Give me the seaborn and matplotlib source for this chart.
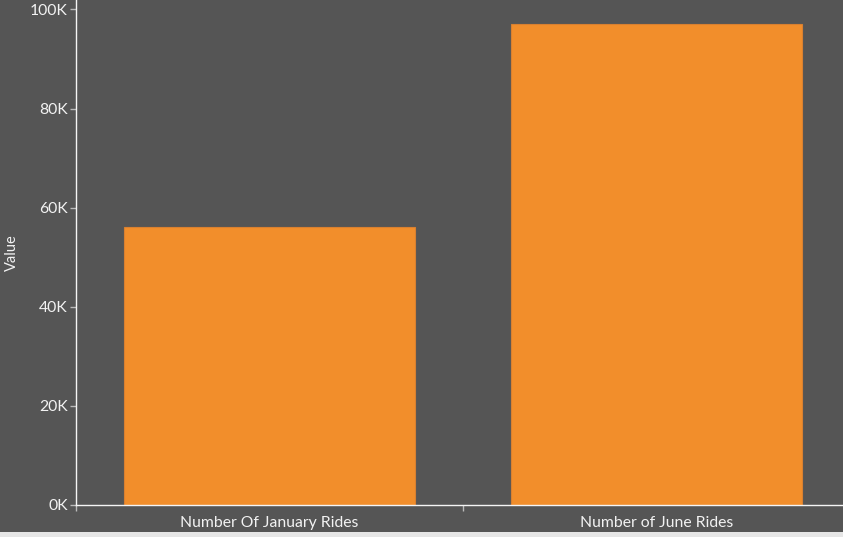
import pandas as pd
import matplotlib.pyplot as plt
import seaborn as sns
from matplotlib.patches import Rectangle

# data
categories = ["Number Of January Rides", "Number of June Rides"]
values = [56000, 97000]
ytick_values = [0, 20000, 40000, 60000, 80000, 100000]
ytick_labels = ["0K", "20K", "40K", "60K", "80K", "100K"]

df = pd.DataFrame({"category": categories, "value": values})

bg = "#555555"
txt = "#f2f2f2"

sns.set_style("dark")
plt.rcParams["font.family"] = ["Lato", "DejaVu Sans"]

W, H = 843, 537
fig = plt.figure(figsize=(W / 100, H / 100), dpi=100)
fig.patch.set_facecolor(bg)
# light strip along the bottom edge
fig.patches.append(Rectangle((0, 0), 1, 5 / H, transform=fig.transFigure,
                             facecolor="#e6e6e6", edgecolor="none", zorder=0))

ax = fig.add_axes([76 / W, (H - 505) / H, 774 / W, 505 / H])
ax.set_facecolor(bg)

sns.barplot(data=df, x="category", y="value", color="#F28E2B", saturation=1,
            width=0.75, edgecolor="#d98030", linewidth=0.8, ax=ax)

ax.set_xlim(-0.5, 1.5)
ax.set_ylim(0, 101900)
ax.grid(False)

ax.set_yticks(ytick_values)
ax.set_yticklabels(ytick_labels)
ax.tick_params(axis="y", left=True, colors="#bbbbbb", labelcolor=txt,
               labelsize=11.3, length=4, width=1, pad=2)

# category labels centred, tick marks on the band edges
ax.set_xticks([-0.5, 0.5])
ax.set_xticklabels([])
ax.set_xticks([0, 1], minor=True)
ax.set_xticklabels(categories, minor=True)
ax.tick_params(axis="x", which="major", bottom=True, colors="#bbbbbb",
               length=4, width=1)
ax.tick_params(axis="x", which="minor", bottom=True, length=0,
               labelcolor=txt, labelsize=11.3, pad=8)

ax.set_xlabel("")
ax.set_ylabel("Value", color=txt, fontsize=10.5)
ax.yaxis.set_label_coords(-57 / 774, 0.5)

for side in ["top", "right"]:
    ax.spines[side].set_visible(False)
for side in ["left", "bottom"]:
    ax.spines[side].set_color("#f5f5f5")
    ax.spines[side].set_linewidth(1)

plt.savefig("out.png", dpi=100, facecolor=bg)
